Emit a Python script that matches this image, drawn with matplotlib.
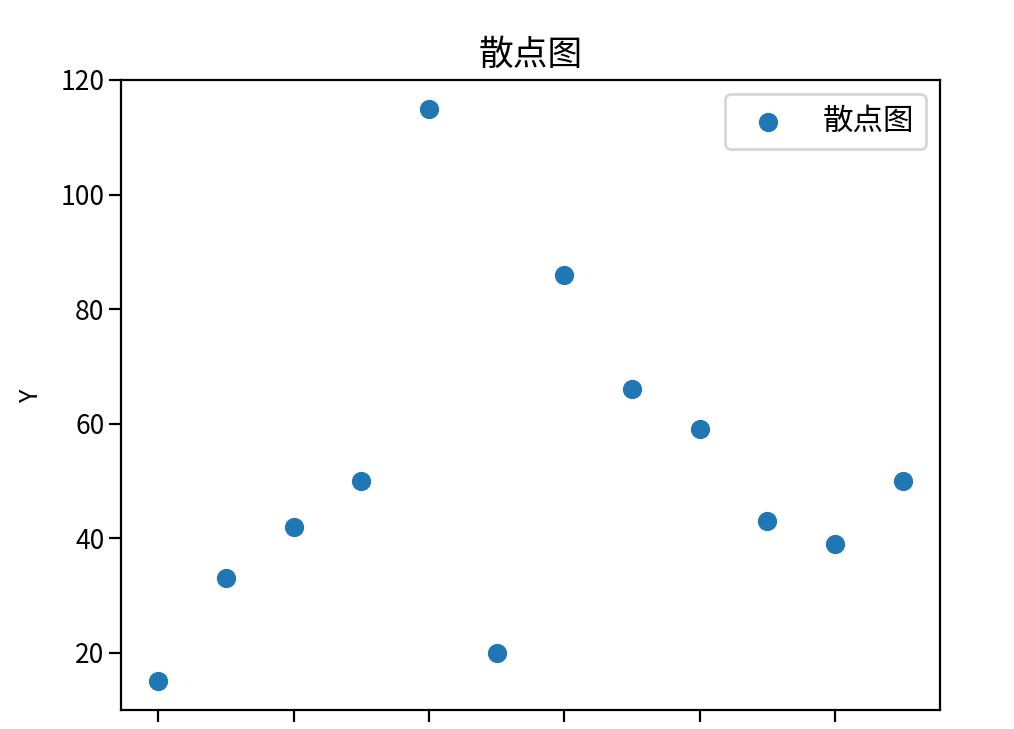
import numpy as np
import matplotlib
matplotlib.use("Agg")
import matplotlib.pyplot as plt

plt.rcParams['font.family'] = ['Noto Sans CJK SC', 'DejaVu Sans']
plt.rcParams['axes.unicode_minus'] = False

# data
x_vals = [0, 1, 2, 3, 4, 5, 6, 7, 8, 9, 10, 11]
y_vals = [15, 33, 42, 50, 115, 20, 86, 66, 59, 43, 39, 50]
x_ticks = [0, 2, 4, 6, 8, 10]
y_ticks = [20, 40, 60, 80, 100, 120]

fig = plt.figure(figsize=(10.14, 7.29), dpi=100)
ax = fig.add_axes([0.1193, 0.0261, 0.8077, 0.8642])

ax.scatter(x_vals, y_vals, s=165, color="#1f77b4", label="散点图")

ax.set_xticks(x_ticks)
ax.set_yticks(y_ticks)
ax.set_ylim(10, 120)
ax.set_xlim(-0.55, 11.55)

ax.tick_params(labelsize=19, length=8.5, width=1.6)
ax.tick_params(axis="x", labelbottom=False)  # labels fall below the crop
for sp in ax.spines.values():
    sp.set_linewidth(1.6)

ax.set_title("散点图", fontsize=25, pad=11)
ax.set_ylabel("Y", fontsize=18, labelpad=12)

leg = ax.legend(fontsize=22, loc="upper right", borderaxespad=0.45)
leg.get_frame().set_linewidth(2.0)

fig.savefig("out.png", dpi=100)
